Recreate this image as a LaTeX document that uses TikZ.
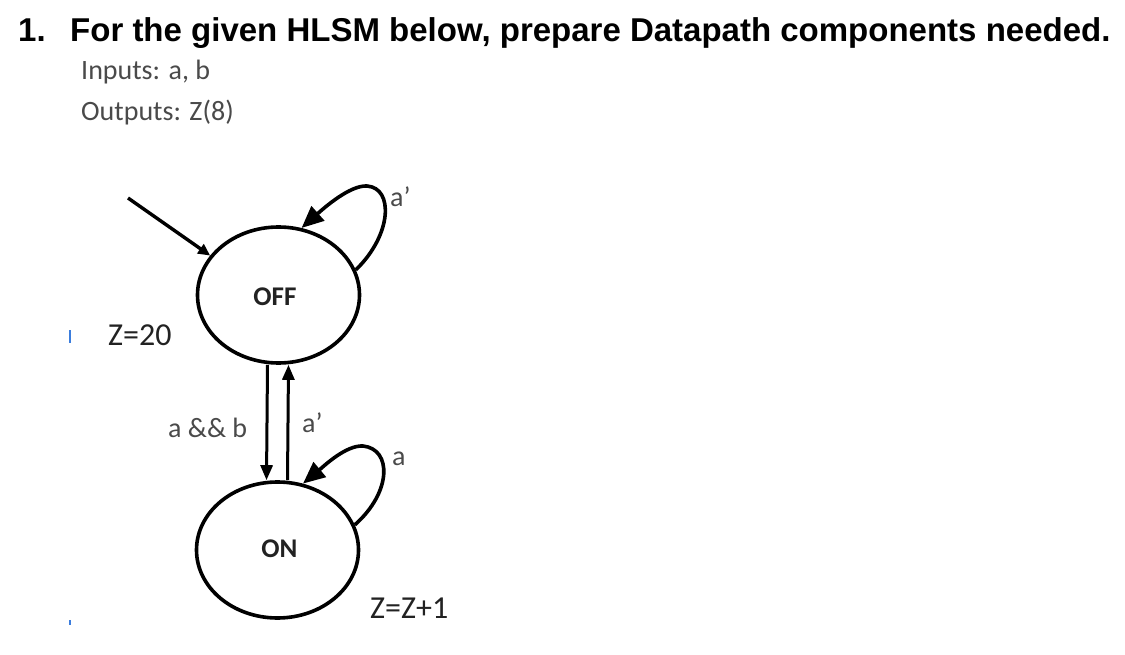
\documentclass[tikz,border=0pt]{standalone}
\usepackage{fontspec}
\setmainfont{Carlito}
\newfontfamily\titlefont{Liberation Sans}
\usetikzlibrary{arrows.meta,shapes.geometric}
\definecolor{txtgray}{HTML}{4A4A4A}
\definecolor{txtdark}{HTML}{222222}
\definecolor{cursorblue}{HTML}{3B7DDD}
\begin{document}
\begin{tikzpicture}[x=1pt,y=-1pt,
  lbl/.style={anchor=base west,inner sep=0pt,font=\fontsize{28}{31}\selectfont,text=txtgray},
  eqlbl/.style={anchor=base west,inner sep=0pt,font=\fontsize{32}{35}\selectfont,text=txtdark},
  state/.style={draw,ellipse,line width=3.6pt,minimum width=162pt,minimum height=136pt,inner sep=0pt},
  statename/.style={inner sep=0pt,font=\fontsize{27}{30}\selectfont\bfseries,text=txtdark},
  loopline/.style={line width=3.6pt,-{Triangle[length=22pt,width=19pt]}},
  trans/.style={line width=3pt,-{Triangle[length=15pt,width=12pt]}},
  initline/.style={line width=3.4pt,-{Triangle[length=12pt,width=11pt]}}
]
\useasboundingbox (0,0) rectangle (1125,655);
\fill[white] (0,0) rectangle (1125,655);

% title
\node[anchor=base west,inner sep=0pt,font=\titlefont\fontsize{33}{36}\selectfont\bfseries] (num) at (18,42) {1.};
\node[anchor=base west,inner sep=0pt,font=\titlefont\fontsize{33}{36}\selectfont\bfseries] (title) at (70,42) {For the given HLSM below, prepare Datapath components needed.};

\node[lbl] (inputs) at (81,80) {Inputs: a, b};
\node[lbl] (outputs) at (81,121) {Outputs: Z(8)};

% states
\node[state] (off) at (278.5,295) {};
\node[state] (on) at (277.5,550) {};
\node[statename] (offname) at (275,296.5) {OFF};
\node[statename] (onname) at (279.5,548.5) {ON};

% initial arrow
\coordinate (init) at (128,198);
\draw[initline] (init) -- (off.150);

% self loops
\draw[loopline] (off.18) .. controls (392,235) and (394,188) .. (367,186)
   .. controls (350,185) and (324,208) .. (off.71);
\draw[loopline] (on.18) .. controls (392,492) and (392,449) .. (363,446)
   .. controls (346,445) and (324,466) .. (on.69);

% transitions between states
\draw[trans] ([xshift=-11pt]off.south) -- ([xshift=-11pt]on.north);
\draw[trans] ([xshift=10pt]on.north) -- ([xshift=10pt]off.south);

% labels
\node[lbl] (la1) at (390,207) {a’};
\node[lbl] (lab) at (168,437) {a \&\& b};
\node[lbl] (la2) at (302,432) {a’};
\node[lbl] (la3) at (392,465) {a};
\node[eqlbl] (z20) at (108,345) {Z=20};
\node[eqlbl] (zz1) at (370,618) {Z=Z+1};

% cursor marks
\draw[cursorblue,line width=1.5pt] (70,330) -- (70,343);
\draw[cursorblue,line width=1.5pt] (70,620) -- (70,625);
\end{tikzpicture}
\end{document}
